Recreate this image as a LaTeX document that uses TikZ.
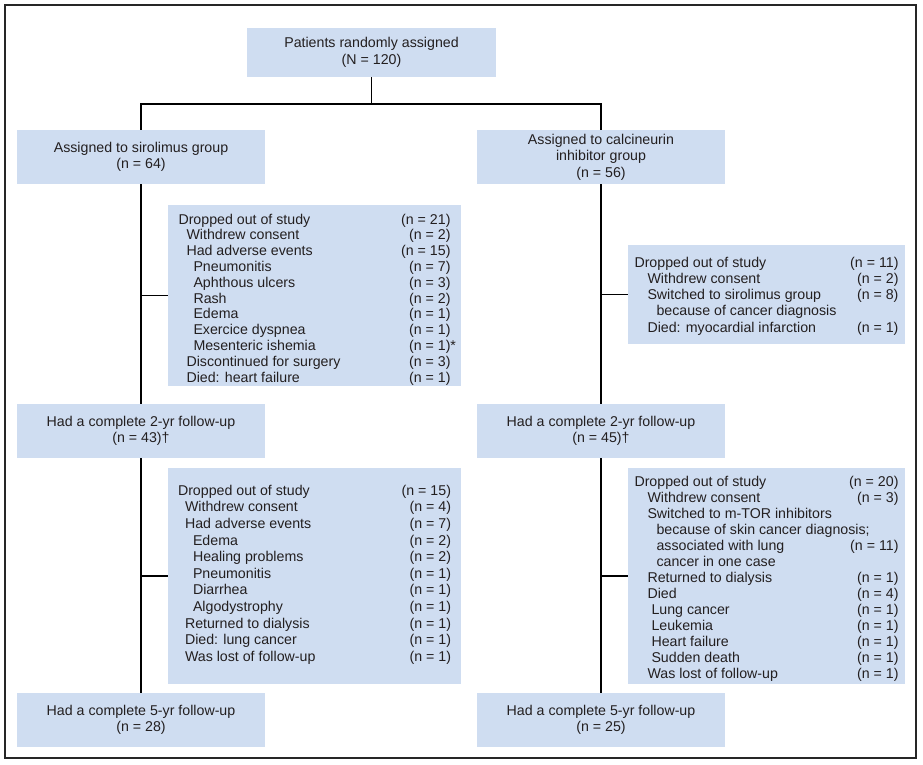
\documentclass[tikz,border=0pt]{standalone}
\usepackage{fontspec}
\setmainfont{Liberation Sans}
\usepackage{array}
\definecolor{boxfill}{RGB}{207,221,241}
\definecolor{ink}{RGB}{35,31,32}
\newcommand{\dropfont}[1]{\fontsize{14.2}{#1}\selectfont}
\newcommand{\ind}[1]{\hspace*{#1pt}}
\tikzset{
  mainbox/.style={fill=boxfill, draw=none, minimum width=248pt, minimum height=54pt,
    inner sep=0pt, align=center, text=ink, font=\fontsize{14.2}{16.6}\selectfont},
  dropbox/.style={fill=boxfill, draw=none, inner sep=0pt},
  droptext/.style={inner sep=0pt, text=ink},
  link/.style={line width=1.9pt, draw=black},
  frame/.style={line width=1.6pt, draw=black!85}
}
\begin{document}
\begin{tikzpicture}[x=1pt, y=-1pt]
\useasboundingbox (0,0) rectangle (923,764);
\draw[frame] (5,5) rectangle (916,758);

% level 0
\node[mainbox, minimum width=249pt, minimum height=49pt] (top) at (371.5,52.5)
  {Patients randomly assigned\\(N = 120)};
% level 1
\node[mainbox] (sir) at (141,157) {Assigned to sirolimus group\\(n = 64)};
\node[mainbox] (cal) at (601,157) {Assigned to calcineurin\\inhibitor group\\(n = 56)};

% dropouts 1
\node[dropbox, minimum width=293pt, minimum height=181pt] (d1L) at (314.5,295.5) {};
\node[droptext, yshift=-4.5pt] (d1Lt) at (d1L.center) {\dropfont{15.8}%
\begin{tabular*}{272pt}{@{}l@{\extracolsep{\fill}}r@{}}
Dropped out of study & (n = 21)\\
\ind{8}Withdrew consent & (n = 2)\\
\ind{8}Had adverse events & (n = 15)\\
\ind{15}Pneumonitis & (n = 7)\\
\ind{15}Aphthous ulcers & (n = 3)\\
\ind{15}Rash & (n = 2)\\
\ind{15}Edema & (n = 1)\\
\ind{15}Exercice dyspnea & (n = 1)\\
\ind{15}Mesenteric ishemia & (n = 1)\rlap{*}\\
\ind{8}Discontinued for surgery & (n = 3)\\
\ind{8}Died: heart failure & (n = 1)
\end{tabular*}};

\node[dropbox, minimum width=277pt, minimum height=99pt] (d1R) at (766.5,294.5) {};
\node[droptext, yshift=-2pt] (d1Rt) at (d1R.center) {\dropfont{16.2}%
\begin{tabular*}{264pt}{@{}l@{\extracolsep{\fill}}r@{}}
Dropped out of study & (n = 11)\\
\ind{13}Withdrew consent & (n = 2)\\
\ind{13}Switched to sirolimus group & (n = 8)\\
\ind{22}\rlap{because of cancer diagnosis} & \\
\ind{13}Died: myocardial infarction & (n = 1)
\end{tabular*}};

% level 2
\node[mainbox] (fu2L) at (141,431) {Had a complete 2-yr follow-up\\(n = 43)†};
\node[mainbox] (fu2R) at (601,431) {Had a complete 2-yr follow-up\\(n = 45)†};

% dropouts 2
\node[dropbox, minimum width=293pt, minimum height=216pt] (d2L) at (314.5,576) {};
\node[droptext, yshift=1pt] (d2Lt) at (d2L.center) {\dropfont{16.6}%
\begin{tabular*}{273pt}{@{}l@{\extracolsep{\fill}}r@{}}
Dropped out of study & (n = 15)\\
\ind{7}Withdrew consent & (n = 4)\\
\ind{7}Had adverse events & (n = 7)\\
\ind{15}Edema & (n = 2)\\
\ind{15}Healing problems & (n = 2)\\
\ind{15}Pneumonitis & (n = 1)\\
\ind{15}Diarrhea & (n = 1)\\
\ind{15}Algodystrophy & (n = 1)\\
\ind{7}Returned to dialysis & (n = 1)\\
\ind{7}Died: lung cancer & (n = 1)\\
\ind{7}Was lost of follow-up & (n = 1)
\end{tabular*}};

\node[dropbox, minimum width=277pt, minimum height=216pt] (d2R) at (766.5,576) {};
\node[droptext, yshift=-3pt] (d2Rt) at (d2R.center) {\dropfont{16}%
\begin{tabular*}{264pt}{@{}l@{\extracolsep{\fill}}r@{}}
Dropped out of study & (n = 20)\\
\ind{13}Withdrew consent & (n = 3)\\
\ind{13}\rlap{Switched to m-TOR inhibitors} & \\
\ind{22}\rlap{because of skin cancer diagnosis;} & \\
\ind{22}associated with lung & (n = 11)\\
\ind{22}\rlap{cancer in one case} & \\
\ind{13}Returned to dialysis & (n = 1)\\
\ind{13}Died & (n = 4)\\
\ind{17}Lung cancer & (n = 1)\\
\ind{17}Leukemia & (n = 1)\\
\ind{17}Heart failure & (n = 1)\\
\ind{17}Sudden death & (n = 1)\\
\ind{13}Was lost of follow-up & (n = 1)
\end{tabular*}};

% level 3
\node[mainbox] (fu5L) at (141,720) {Had a complete 5-yr follow-up\\(n = 28)};
\node[mainbox] (fu5R) at (601,720) {Had a complete 5-yr follow-up\\(n = 25)};

% connectors
\coordinate (split) at (371.5,104);
\draw[link] (top.south) -- (split);
\draw[link] (sir.north) |- (split) -| (cal.north);
\draw[link] (sir.south) -- (fu2L.north);
\draw[link] (cal.south) -- (fu2R.north);
\draw[link] (fu2L.south) -- (fu5L.north);
\draw[link] (fu2R.south) -- (fu5R.north);
\draw[link] (sir.south |- d1L.west) -- (d1L.west);
\draw[link] (cal.south |- d1R.west) -- (d1R.west);
\draw[link] (fu2L.south |- d2L.west) -- (d2L.west);
\draw[link] (fu2R.south |- d2R.west) -- (d2R.west);
\end{tikzpicture}
\end{document}
